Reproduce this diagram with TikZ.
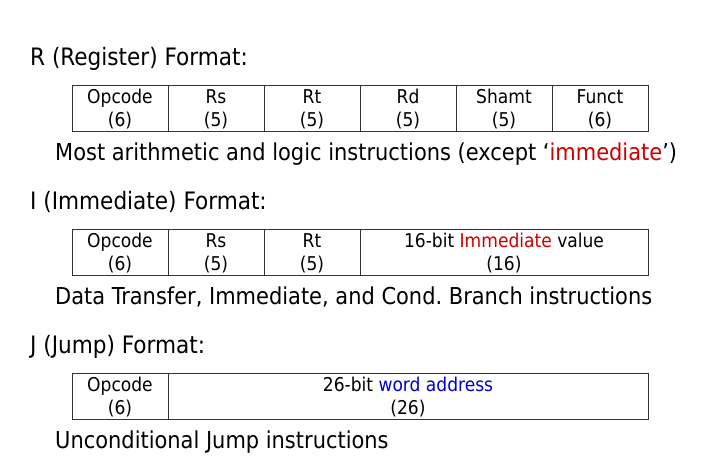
\documentclass[tikz,border=0pt]{standalone}
\usepackage{fontspec}
\setmainfont{DejaVu Sans Condensed}
\usetikzlibrary{positioning}
\frenchspacing
\definecolor{immred}{RGB}{204,0,0}
\definecolor{addrblue}{RGB}{0,0,204}
\tikzset{
  field/.style={draw=black!80, line width=0.8pt, minimum width=96pt, minimum height=46pt,
    inner sep=0pt, outer sep=0pt, align=center, text depth=0pt, font=\fontsize{19}{23}\selectfont},
  heading/.style={anchor=base west, inner sep=0pt, font=\fontsize{24}{26}\selectfont},
  caption/.style={anchor=base west, inner sep=0pt, font=\fontsize{23.3}{26}\selectfont},
}
\begin{document}
\begin{tikzpicture}[x=1pt,y=-1pt]
\useasboundingbox (0,0) rectangle (720,469);
% R format
\node[heading] (rtitle) at (30,65) {R (Register) Format:};
\node[field, anchor=north west] (rop) at (72,85) {Opcode\\(6)};
\node[field, right=0pt of rop] (rrs) {Rs\\(5)};
\node[field, right=0pt of rrs] (rrt) {Rt\\(5)};
\node[field, right=0pt of rrt] (rrd) {Rd\\(5)};
\node[field, right=0pt of rrd] (rsh) {Shamt\\(5)};
\node[field, right=0pt of rsh] (rfn) {Funct\\(6)};
\node[caption] (rcap) at (55,160) {Most arithmetic and logic instructions (except ‘\textcolor{immred}{immediate}’)};
% I format
\node[heading] (ititle) at (30,209) {I (Immediate) Format:};
\node[field, anchor=north west] (iop) at (72,229) {Opcode\\(6)};
\node[field, right=0pt of iop] (irs) {Rs\\(5)};
\node[field, right=0pt of irs] (irt) {Rt\\(5)};
\node[field, right=0pt of irt, minimum width=288pt] (iimm) {16-bit \textcolor{immred}{Immediate} value\\(16)};
\node[caption] (icap) at (55,304) {Data Transfer, Immediate, and Cond. Branch instructions};
% J format
\node[heading] (jtitle) at (30,353) {J (Jump) Format:};
\node[field, anchor=north west] (jop) at (72,373) {Opcode\\(6)};
\node[field, right=0pt of jop, minimum width=480pt] (jaddr) {26-bit \textcolor{addrblue}{word address}\\(26)};
\node[caption] (jcap) at (55,448) {Unconditional Jump instructions};
\end{tikzpicture}
\end{document}
